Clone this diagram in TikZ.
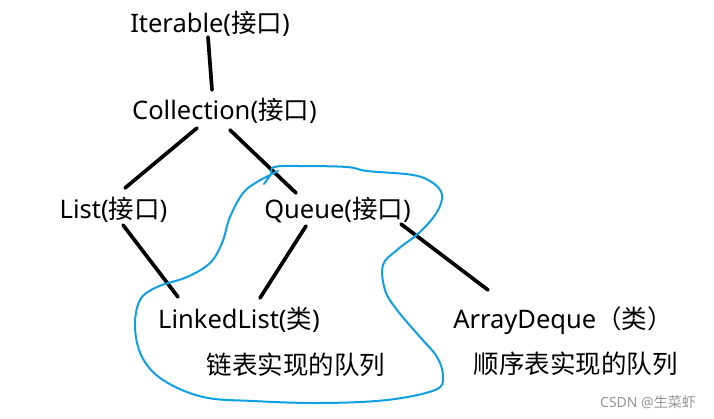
\documentclass[tikz,border=0pt]{standalone}
\usepackage{fontspec}
\setmainfont{Noto Sans}
\newfontfamily\cjk{Noto Sans CJK SC}
\definecolor{loopblue}{RGB}{15,160,228}
\definecolor{markgray}{RGB}{150,150,150}
\begin{document}
\begin{tikzpicture}[x=1pt,y=-1pt,
  lbl/.style={anchor=base,inner sep=0pt,font=\fontsize{25.5}{30}\selectfont},
  note/.style={anchor=base,inner sep=0pt,font=\cjk\fontsize{25.5}{30}\selectfont},
  wm/.style={anchor=base,inner sep=0pt,text=markgray,font=\fontsize{14}{16}\selectfont},
  edge/.style={line width=3.7pt,line cap=round},
  loop/.style={draw=loopblue,line width=2pt,line cap=round,line join=round}]
\useasboundingbox[fill=white] (0,0) rectangle (714,418);
\node[lbl] (it) at (210,32) {Iterable({\cjk 接口})};
\node[lbl] (coll) at (224.5,119) {Collection({\cjk 接口})};
\node[lbl] (list) at (113.5,218) {List({\cjk 接口})};
\node[lbl] (queue) at (337.5,218) {Queue({\cjk 接口})};
\node[lbl] (ll) at (239,328) {LinkedList({\cjk 类})};
\node[lbl] (ad) at (563,328) {ArrayDeque{\cjk （类）}};
\node[note] (lln) at (296,374) {链表实现的队列};
\node[note] (adn) at (575.5,373) {顺序表实现的队列};
\node[wm] (csdn) at (648,407) {CSDN @{\cjk 生菜虾}};
\draw[edge] ([shift={(-2,5)}]it.base) -- ([shift={(-12.5,-29)}]coll.base);
\draw[edge] ([shift={(-27.5,9)}]coll.base) -- ([shift={(11.5,-30)}]list.base);
\draw[edge] ([shift={(5.5,11)}]coll.base) -- ([shift={(-41.5,-25)}]queue.base);
\draw[edge] ([shift={(9.5,7)}]list.base) -- ([shift={(-61,-31)}]ll.base);
\draw[edge] ([shift={(-31.5,8)}]queue.base) -- ([shift={(21,-30)}]ll.base);
\draw[edge] ([shift={(63.5,6)}]queue.base) -- ([shift={(-75,-38)}]ad.base);
\draw[loop] plot[smooth,tension=0.6] coordinates {
 (264,184) (271,174) (274,167) (300,166) (347,167) (367,171) (413,175) (433,183)
 (442,195) (437,212) (420,232) (397,250) (383,265) (385,290) (397,310) (420,337)
 (437,357) (443,377) (435,390) (387,400) (320,403) (253,401) (203,397) (163,380)
 (142,357) (135,327) (140,300) (157,287) (187,277) (210,263) (222,243) (230,217)
 (243,193) (257,182) (270,175) (278,171)};
\end{tikzpicture}
\end{document}
